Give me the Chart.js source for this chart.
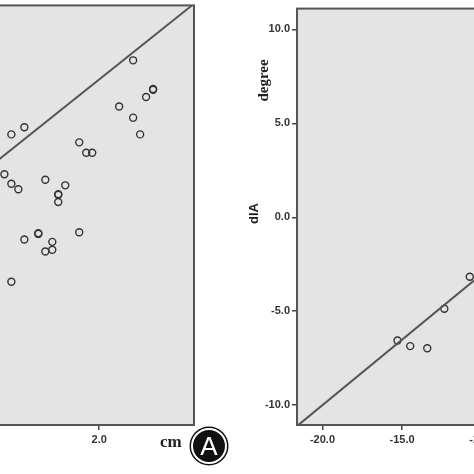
<!DOCTYPE html>
<html><head><meta charset="utf-8">
<script src="https://cdn.jsdelivr.net/npm/chart.js@4"></script>
<style>
html,body{margin:0;padding:0;width:474px;height:474px;overflow:hidden;background:#fff;position:relative}
canvas{position:absolute;top:0;left:0}
.t{position:absolute;font-weight:bold;color:#222}
</style></head><body>
<canvas id="c1" width="208" height="474" style="left:-8px"></canvas>
<canvas id="c2" width="274" height="474" style="left:237px"></canvas>
<div class="t" style="left:160px;top:432px;font:bold 17px 'Liberation Serif'">cm</div>
<div style="position:absolute;left:191px;top:428px;width:32px;height:32px;border-radius:50%;background:#111;border:2px solid #fff;box-shadow:0 0 0 1.5px #111;color:#fff;font:26px 'Liberation Sans';text-align:center;line-height:33px">A</div>
<div class="t" style="left:243px;top:206px;transform:rotate(-90deg);font:bold 13px 'Liberation Sans'">dIA</div>
<div class="t" style="left:242px;top:72px;transform:rotate(-90deg);font:bold 15px 'Liberation Serif'">degree</div>
<script>
const leftX=[2.34,2.54,2.54,2.47,2.20,2.34,2.41,1.25,1.12,1.80,1.87,1.93,1.05,1.12,1.19,1.46,1.66,1.59,1.59,1.59,1.25,1.39,1.39,1.53,1.46,1.53,1.80,1.12];
const leftY=[2.24,1.88,1.87,1.78,1.66,1.52,1.31,1.40,1.31,1.21,1.08,1.08,0.81,0.69,0.62,0.74,0.67,0.56,0.55,0.46,-0.01,0.07,0.06,-0.04,-0.16,-0.14,0.08,-0.54];
const leftLineX=[0.98,2.95];
const leftLineY=[0.98,2.95];
const leftXTicks=[2.0];
const rightX=[-15.29,-14.49,-13.42,-12.35,-10.75];
const rightY=[-6.56,-6.86,-6.97,-4.87,-3.17];
const rightLineX=[-21.6,-8.5];
const rightLineY=[-11.12,-1.99];
const rightXTicks=[-20,-15,-10];
const rightYTicks=[-10,-5,0,5,10];

const bg={id:'bg',beforeDraw(c){const a=c.chartArea,x=c.ctx;x.save();x.fillStyle='#e4e4e4';x.fillRect(a.left,a.top,a.right-a.left,a.bottom-a.top);x.restore();},
afterDraw(c){const a=c.chartArea,x=c.ctx;x.save();x.strokeStyle='#555';x.lineWidth=2;x.strokeRect(a.left,a.top,a.right-a.left,a.bottom-a.top);x.restore();}};
const pts=(xs,ys)=>xs.map((v,i)=>({x:v,y:ys[i]}));
const font={family:'Liberation Sans',size:11,weight:'bold'};
function ds(px,py,lx,ly){return [
 {data:pts(lx,ly),showLine:true,borderColor:'#555',borderWidth:2,pointRadius:0,fill:false},
 {data:pts(px,py),pointRadius:3.5,pointBorderColor:'#333',pointBorderWidth:1.4,pointBackgroundColor:'rgba(0,0,0,0)'}];}
function xAxis(min,max,ticks){return {type:'linear',min,max,afterBuildTicks(s){s.ticks=ticks.map(v=>({value:v}));},
 afterFit(s){s.height=49;},grid:{drawOnChartArea:false,tickLength:5,color:'#444',lineWidth:1.5},border:{display:false},
 ticks:{font,color:'#333',callback:v=>Number(v).toFixed(1),maxRotation:0,autoSkip:false}};}
Chart.defaults.animation=false;
new Chart(document.getElementById('c1'),{type:'scatter',plugins:[bg],
 data:{datasets:ds(leftX,leftY,leftLineX,leftLineY)},
 options:{responsive:false,layout:{padding:{top:4,right:6,left:0}},
  plugins:{legend:{display:false},tooltip:{enabled:false}},
  scales:{x:xAxis(0.98,2.95,leftXTicks),y:{type:'linear',min:-2.34,max:2.93,display:false}}}});
new Chart(document.getElementById('c2'),{type:'scatter',plugins:[bg],
 data:{datasets:ds(rightX,rightY,rightLineX,rightLineY)},
 options:{responsive:false,layout:{padding:{top:6,right:0,left:0}},
  plugins:{legend:{display:false},tooltip:{enabled:false}},
  scales:{x:xAxis(-21.6,-8.5,rightXTicks),
   y:{type:'linear',min:-11.06,max:11.11,afterBuildTicks(s){s.ticks=rightYTicks.map(v=>({value:v}));},
    afterFit(s){s.width=60;},grid:{drawOnChartArea:false,tickLength:5,color:'#444',lineWidth:1.5},border:{display:false},
    ticks:{font,color:'#333',callback:v=>Number(v).toFixed(1),padding:2}}}}});
</script></body></html>
